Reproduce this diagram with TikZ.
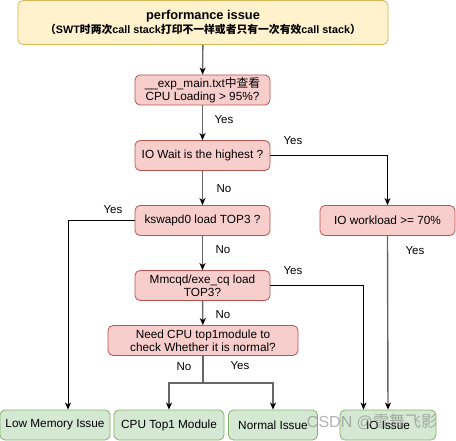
\documentclass[tikz,border=0pt]{standalone}
\usepackage{fontspec}
\setmainfont{Liberation Sans}
\newfontfamily\cjk{Noto Sans CJK SC}
\usetikzlibrary{arrows.meta,positioning}
\definecolor{rfill}{HTML}{F8CECC}
\definecolor{rdraw}{HTML}{B85450}
\definecolor{yfill}{HTML}{FFF2CC}
\definecolor{ydraw}{HTML}{D6B656}
\definecolor{gfill}{HTML}{D5E8D4}
\definecolor{gdraw}{HTML}{82B366}
\definecolor{lgray}{HTML}{666666}
\begin{document}
\begin{tikzpicture}[x=1pt,y=-1pt,
  font=\fontsize{11.8pt}{13pt}\selectfont,
  base/.style={rounded corners=5pt,line width=0.8pt,align=center,inner sep=1pt},
  redbox/.style={base,fill=rfill,draw=rdraw,minimum width=135pt,minimum height=30pt},
  greenbox/.style={base,fill=gfill,draw=gdraw,minimum height=30pt},
  yellowbox/.style={base,fill=yfill,draw=ydraw,minimum width=370pt,minimum height=44pt},
  arr/.style={line width=1pt,-{Stealth[length=7pt,width=6pt,inset=2pt]}},
  garr/.style={arr,draw=lgray,line width=1.4pt,-{Stealth[length=7pt,width=6pt,inset=2pt,color=black]}},
  lbl/.style={inner sep=0pt,font=\fontsize{11.5pt}{12pt}\selectfont}]
\useasboundingbox (0,0) rectangle (456,441);

\node[yellowbox] (top) at (203,22.5) {{\bfseries\fontsize{12.8pt}{14pt}\selectfont performance issue}\\[1pt]
  {\bfseries\fontsize{10.8pt}{12pt}\selectfont{\cjk\bfseries （}SWT{\cjk\bfseries 时两次}call stack{\cjk\bfseries 打印不一样或者只有一次有效}call stack{\cjk\bfseries ）}}};

\node[redbox] (cpu) at (202.5,90) {\_\_exp\_main.txt{\cjk 中查看}\\CPU Loading > 95\%?};
\node[redbox] (iow) at (202.5,155.5) {IO Wait is the highest ?};
\node[redbox] (ksw) at (202.5,220.5) {kswapd0 load TOP3 ?};
\node[redbox] (iowl) at (387.5,220.5) {IO workload >= 70\%};
\node[redbox] (mmc) at (202.5,285.5) {Mmcqd/exe\_cq load\\TOP3?};
\node[redbox,minimum width=190pt] (need) at (203,340.5) {Need CPU top1module to\\check Whether it is normal?};

\node[greenbox,minimum width=110pt] (low) at (55,425) {Low Memory Issue};
\node[greenbox,minimum width=110pt] (top1) at (169,425) {CPU Top1 Module};
\node[greenbox,minimum width=89pt] (norm) at (273,425) {Normal Issue};
\node[greenbox,minimum width=96pt] (ioi) at (388,425) {IO Issue};

\coordinate (lowin) at ([xshift=13pt]low.north);
\coordinate (ioin) at ([xshift=-24.5pt]ioi.north);
\coordinate (split) at ([yshift=-27pt]need.south);

\draw[garr] (top) -- (cpu);
\draw[garr] (cpu) -- (iow);
\draw[garr] (iow) -- (ksw);
\draw[garr] (ksw) -- (mmc);
\draw[garr] (mmc) -- (need);
\draw[arr] (iow.east) -| (iowl.north);
\draw[arr] (ksw.west) -| (lowin);
\draw[arr] (mmc.east) -| (ioin);
\draw[garr] (iowl.south) -- (ioi.north);
\draw[draw=lgray,line width=1.4pt] (need.south) -- (split);
\draw[garr] (split) -| (top1.north);
\draw[garr] (split) -| (norm.north);

\node[lbl] (l1) at (224,120) {Yes};
\node[lbl] (l2) at (224,189) {No};
\node[lbl] (l3) at (293,140.5) {Yes};
\node[lbl] (l4) at (113,210) {Yes};
\node[lbl] (l5) at (223,250) {No};
\node[lbl] (l6) at (293,270.5) {Yes};
\node[lbl] (l7) at (415,250.5) {Yes};
\node[lbl] (l8) at (223,315) {No};
\node[lbl] (l9) at (184,367) {No};
\node[lbl] (l10) at (240,366) {Yes};

\node[inner sep=0pt,text=gray,opacity=0.6,font=\fontsize{16pt}{18pt}\selectfont] (wm) at (372,422) {CSDN @{\cjk 雪舞飞影}};
\end{tikzpicture}
\end{document}
